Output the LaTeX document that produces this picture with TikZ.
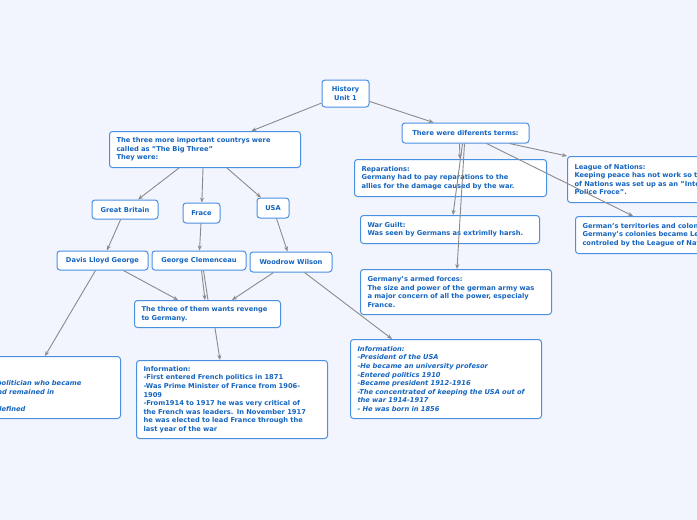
\documentclass[tikz,border=0pt]{standalone}
\usepackage{fontspec}
\setmainfont{DejaVu Sans}
\usetikzlibrary{arrows.meta,calc}
\definecolor{bg}{HTML}{F2F5FD}
\definecolor{bd}{HTML}{4A90E2}
\definecolor{tx}{HTML}{1565C0}
\definecolor{ln}{HTML}{8A8A8A}
\tikzset{
 box/.style={draw=bd,line width=1pt,rounded corners=3pt,fill=white,text=tx,
   font=\fontsize{6.7}{8.6}\selectfont\bfseries,align=left,anchor=north west,inner xsep=7pt,inner ysep=2pt},
 cbox/.style={box,align=center,anchor=center,inner xsep=2pt},
 ib/.style={font=\fontsize{6.7}{8.6}\selectfont\bfseries\itshape},
 con/.style={draw=ln,line width=0.9pt,-{Stealth[length=5pt,width=4pt]}},
 plain/.style={draw=ln,line width=0.9pt}
}
\begin{document}
\begin{tikzpicture}[x=1pt,y=-1pt]
\useasboundingbox (0,0) rectangle (697,520);
\fill[bg] (0,0) rectangle (697,520);
\clip (0,0) rectangle (697,520);
\node[cbox,minimum width=47pt,minimum height=27pt] (hist) at (345.5,93.5) {History\\Unit 1};
\node[box,minimum width=191pt,minimum height=36pt,text width=177pt] (big) at (109,131) {The three more important countrys were\\called as "The Big Three"\\They were:};
\node[cbox,minimum width=66pt,minimum height=19pt] (gb) at (125,209.5) {Great Britain};
\node[cbox,minimum width=37pt,minimum height=20pt] (fr) at (201.5,213) {Frace};
\node[cbox,minimum width=32pt,minimum height=20pt] (usa) at (273,208) {USA};
\node[cbox,minimum width=91pt,minimum height=19pt] (lg) at (102.5,260.5) {Davis Lloyd George};
\node[cbox,minimum width=94pt,minimum height=19pt] (gc) at (199,260.5) {George Clemenceau};
\node[cbox,minimum width=82pt,minimum height=20pt] (ww) at (291,262) {Woodrow Wilson};
\node[box,minimum width=146pt,minimum height=27pt,text width=132pt] (three) at (134,300) {The three of them wants revenge\\to Germany.};
\node[box,ib,minimum width=220pt,minimum height=62pt,text width=206pt] (lgi) at (-100,356) {Information:\\-Entered politics in 1890\\-He was a very capable politician who became\\Prime Minister in 1916and remained in\\power until 1922\\-He was born in 1863undefined};
\node[box,minimum width=191pt,minimum height=78pt,text width=177pt] (gci) at (136,360) {Information:\\-First entered French politics in 1871\\-Was Prime Minister of France from 1906-\\1909\\-From1914 to 1917 he was very critical of\\the French was leaders. In November 1917\\he was elected to lead France through the\\last year of the war};
\node[box,ib,minimum width=191pt,minimum height=79pt,text width=177pt] (wwi) at (350,339) {Information:\\-President of the USA\\-He became an university profesor\\-Entered politics 1910\\-Became president 1912-1916\\-The concentrated of keeping the USA out of\\the war 1914-1917\\- He was born in 1856};
\node[cbox,minimum width=127pt,minimum height=20pt] (terms) at (465.5,133) {There were diferents terms:};
\node[box,minimum width=192pt,minimum height=37pt,text width=178pt] (rep) at (354,159) {Reparations:\\Germany had to pay reparations to the\\allies for the damage caused by the war.};
\node[box,minimum width=179pt,minimum height=28pt,text width=165pt] (wg) at (360,215) {War Guilt:\\Was seen by Germans as extrimlly harsh.};
\node[box,minimum width=191pt,minimum height=45pt,text width=177pt] (af) at (360,269) {Germany's armed forces:\\The size and power of the german army was\\a major concern of all the power, especialy\\France.};
\node[box,minimum width=190pt,minimum height=46pt,text width=176pt] (lon) at (567,156) {League of Nations:\\Keeping peace has not work so the League\\of Nations was set up as an "International\\Police Froce".};
\node[box,minimum width=200pt,minimum height=37pt,text width=186pt] (gt) at (575,216) {German's territories and colonies:\\Germany's colonies became League mandates\\controled by the League of Nations.};
% connectors
\draw[con] (hist) -- (big);
\draw[con] (hist) -- (terms);
\draw[con] ($(big.south west)+(70,0)$) -- (gb);
\draw[con] ($(big.south west)+(94,0)$) -- (fr);
\draw[con] ($(big.south west)+(118,0)$) -- (usa);
\draw[con] (gb) -- (lg);
\draw[con] (fr) -- (gc);
\draw[con] (usa) -- (ww);
\draw[con] ($(lg.south west)+(39,0)$) -- ($(lgi.north west)+(145,0)$);
\draw[con] ($(lg.south west)+(67,0)$) -- ($(three.north west)+(44,0)$);
\draw[con] ($(gc.south west)+(50,0)$) -- ($(three.north west)+(71,0)$);
\draw[plain] ($(gc.south west)+(52,0)$) -- ($(three.north west)+(74,0)$);
\draw[con] ($(ww.south west)+(24,0)$) -- ($(three.north west)+(98,0)$);
\draw[con] ($(ww.south west)+(55,0)$) -- ($(wwi.north west)+(42,0)$);
\draw[con] ($(three.south west)+(81,0)$) -- ($(gci.north west)+(84,0)$);
\draw[con] ($(terms.south west)+(58,0)$) -- ($(rep.north west)+(106,0)$);
\draw[con] ($(terms.south west)+(61,0)$) -- ($(wg.north west)+(93,0)$);
\draw[con] ($(terms.south west)+(63,0)$) -- ($(af.north west)+(97,0)$);
\draw[con] ($(terms.south west)+(108,0)$) -- (lon.north west);
\draw[con] ($(terms.south west)+(85,0)$) -- ($(gt.north west)+(58,0)$);
\end{tikzpicture}
\end{document}
